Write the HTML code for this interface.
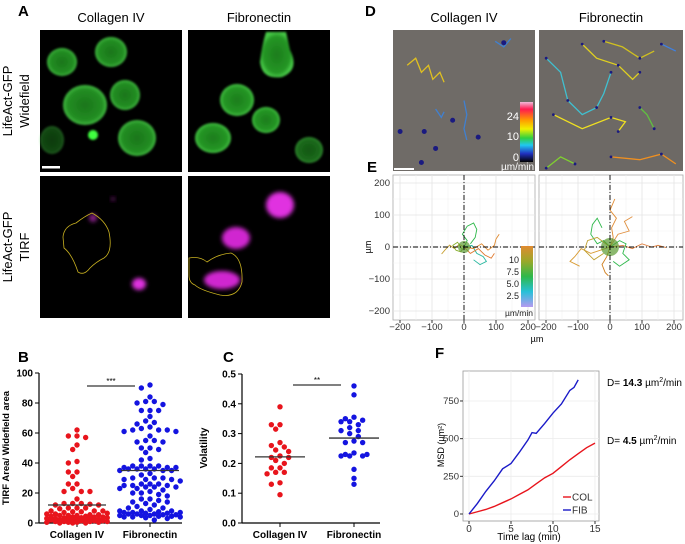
<!DOCTYPE html>
<html><head><meta charset="utf-8"><style>
html,body{margin:0;padding:0;background:#fff;}
svg{display:block;font-family:"Liberation Sans",Arial,sans-serif;}
</style></head><body>
<svg id="fig" width="685" height="544" viewBox="0 0 685 544" xmlns="http://www.w3.org/2000/svg">
<defs>
<filter id="blur1" x="-50%" y="-50%" width="200%" height="200%"><feGaussianBlur stdDeviation="2"/></filter>
<filter id="blur2" x="-50%" y="-50%" width="200%" height="200%"><feGaussianBlur stdDeviation="1"/></filter>
<linearGradient id="gradD" x1="0" y1="0" x2="0" y2="1">
<stop offset="0" stop-color="#f0b8d8"/><stop offset="0.12" stop-color="#ff1a50"/><stop offset="0.3" stop-color="#ff9a00"/><stop offset="0.45" stop-color="#f0f000"/><stop offset="0.6" stop-color="#30d040"/><stop offset="0.72" stop-color="#20c8f0"/><stop offset="0.86" stop-color="#2030c0"/><stop offset="1" stop-color="#000"/></linearGradient>
<linearGradient id="gradE" x1="0" y1="0" x2="0" y2="1">
<stop offset="0" stop-color="#e08a30"/><stop offset="0.25" stop-color="#9aa82a"/><stop offset="0.5" stop-color="#2eb84a"/><stop offset="0.75" stop-color="#28c0d8"/><stop offset="1" stop-color="#b59af0"/></linearGradient>
<radialGradient id="cellG"><stop offset="0" stop-color="#1f8a1f"/><stop offset="0.8" stop-color="#2aa82a"/><stop offset="1" stop-color="#50e050"/></radialGradient>
</defs>

<!-- Panel A -->
<text x="18" y="16" font-size="15" font-weight="bold">A</text>
<text x="111" y="22" font-size="13" text-anchor="middle">Collagen IV</text>
<text x="259" y="22" font-size="13" text-anchor="middle">Fibronectin</text>
<g font-size="13" text-anchor="middle">
<text transform="translate(12,101) rotate(-90)">LifeAct-GFP</text>
<text transform="translate(29,101) rotate(-90)">Widefield</text></g>
<g font-size="13" text-anchor="middle">
<text transform="translate(12,247) rotate(-90)">LifeAct-GFP</text>
<text transform="translate(29,247) rotate(-90)">TIRF</text></g>

<g>
<rect x="40" y="30" width="142" height="142" fill="#000"/>
<g filter="url(#blur2)" fill="url(#cellG)" opacity="0.85">
<ellipse cx="111" cy="52" rx="16" ry="15"/><ellipse cx="62" cy="62" rx="15" ry="14"/>
<ellipse cx="85" cy="105" rx="22" ry="20"/><ellipse cx="125" cy="95" rx="15" ry="15"/>
<ellipse cx="137" cy="138" rx="19" ry="18"/><ellipse cx="52" cy="140" rx="12" ry="14" opacity="0.5"/></g>
<circle cx="93" cy="135" r="5" fill="#40ff40" filter="url(#blur2)"/>
<rect x="42" y="166" width="18" height="2.5" fill="#fff"/></g>
<g>
<rect x="188" y="30" width="142" height="142" fill="#000"/>
<g filter="url(#blur2)" fill="url(#cellG)" opacity="0.9">
<path d="M266 32 L286 32 L290 50 Q300 70 282 77 Q262 80 260 62 Q262 45 266 32Z"/>
<ellipse cx="237" cy="100" rx="17" ry="16"/><ellipse cx="266" cy="120" rx="14" ry="13"/>
<ellipse cx="213" cy="138" rx="18" ry="15"/><ellipse cx="309" cy="150" rx="14" ry="13" opacity="0.7"/></g></g>

<g>
<rect x="40" y="176" width="142" height="142" fill="#000"/>
<ellipse cx="139" cy="284" rx="7" ry="6" fill="#e030e0" filter="url(#blur1)"/>
<ellipse cx="93" cy="218" rx="4" ry="4" fill="#8a208a" filter="url(#blur1)"/>
<ellipse cx="113" cy="199" rx="2" ry="2" fill="#6a186a" filter="url(#blur1)"/>
<path d="M63 237 Q64 226 76 223 Q85 216 92 213 Q105 220 109 232 Q113 252 104 258 Q96 262 90 268 Q84 276 78 272 Q72 254 64 248Z" fill="none" stroke="#c8b020" stroke-width="0.8"/></g>
<g>
<rect x="188" y="176" width="142" height="142" fill="#000"/>
<ellipse cx="280" cy="205" rx="14" ry="13" fill="#e030e0" filter="url(#blur1)"/>
<ellipse cx="236" cy="238" rx="14" ry="11" fill="#d028d0" filter="url(#blur1)"/>
<ellipse cx="222" cy="280" rx="18" ry="9" fill="#d028d0" filter="url(#blur1)"/>
<path d="M189 258 Q200 256 207 262 Q218 254 231 253 Q243 258 242 282 Q238 298 220 295 Q200 290 195 285 Q189 283 189 275Z" fill="none" stroke="#c8b020" stroke-width="0.8"/></g>

<!-- Panel B -->
<text x="18" y="362" font-size="15" font-weight="bold">B</text>
<text transform="translate(9,448) rotate(-90)" font-size="9.5" font-weight="bold" text-anchor="middle">TIRF Area/ Widefield area</text>
<g id="chartB"></g>
<!-- Panel C -->
<text x="223" y="362" font-size="15" font-weight="bold">C</text>
<text transform="translate(207,448) rotate(-90)" font-size="10" font-weight="bold" text-anchor="middle">Volatility</text>
<g id="chartC"></g>

<!-- Panel D -->
<text x="365" y="16" font-size="15" font-weight="bold">D</text>
<text x="464" y="22" font-size="13" text-anchor="middle">Collagen IV</text>
<text x="611" y="22" font-size="13" text-anchor="middle">Fibronectin</text>
<rect x="393" y="30" width="142" height="141" fill="#6f6b67"/>
<rect x="539" y="30" width="144" height="141" fill="#6d6965"/>
<g id="chartD"></g>
<g>
<rect x="520" y="102" width="13" height="60" fill="url(#gradD)"/>
<text x="519" y="120" font-size="11" fill="#fff" text-anchor="end">24</text>
<text x="519" y="140" font-size="11" fill="#fff" text-anchor="end">10</text>
<text x="519" y="161" font-size="11" fill="#fff" text-anchor="end">0</text>
<text x="534" y="170" font-size="10" fill="#fff" text-anchor="end">µm/min</text></g>
<rect x="394" y="168" width="20" height="2" fill="#fff"/>

<!-- Panel E -->
<text x="367" y="172" font-size="15" font-weight="bold">E</text>
<text transform="translate(371,247) rotate(-90)" font-size="9" text-anchor="middle">µm</text>
<text x="537" y="342" font-size="9" text-anchor="middle">µm</text>
<g id="chartE"></g>

<!-- Panel F -->
<text x="435" y="358" font-size="15" font-weight="bold">F</text>
<text transform="translate(444,445) rotate(-90)" font-size="9" text-anchor="middle">MSD (µm²)</text>
<text x="529" y="540" font-size="10" text-anchor="middle">Time lag (min)</text>
<g id="chartF"></g>
<text x="607" y="386" font-size="10">D= <tspan font-weight="bold">14.3</tspan> µm<tspan font-size="7" dy="-4">2</tspan><tspan dy="4">/min</tspan></text>
<text x="607" y="444" font-size="10">D= <tspan font-weight="bold">4.5</tspan>  µm<tspan font-size="7" dy="-4">2</tspan><tspan dy="4">/min</tspan></text>
</svg>
<script>
// ---------- DATA ----------
const bCategories = ["Collagen IV","Fibronectin"];
const bCollagen = [62,58,58,57,52,49,41,40,34,34,31,26,26,23,21,21,21,16,13,13,13,12.5,12,12,10,10,10,9.5,8,8,8,7.5,7.5,7,6.5,6,6,5.5,5.5,5,5,5,4.5,4.5,4,4,4,3.5,3.5,3.5,3,3,3,2.5,2.5,2.5,2,2,2,2,1.5,1.5,1.5,1,1,1,1,0.5,0.5,0.5,0.5,0,0,0];
const bFibronectin = [92,90,84,81,81,80,79,75,75,75,71,68,67,66,64,63,62,62,62,61,61,58,55,55,54,54,50,50,49,47,43,42,38,38,38,38,37,37,37,36,36,36,36,35,35,35,33,32,30,30,30,29,29,29,28,26,26,26,25,25,25,24,24,24,23,23,22,21,20,20,19,18,16,16,15,14,14,13,12,11,10,10,9,8,8,8,7.5,7,7,7,6.5,6.5,6,6,6,5.5,5.5,5,5,5,4.5,4.5,4,4,4,3.5,3,2];
const bMedians = [12,35];
const bTicks = [0,20,40,60,80,100];
const cCategories = ["Collagen IV","Fibronectin"];
const cCollagen = [0.39,0.33,0.33,0.315,0.27,0.26,0.255,0.245,0.24,0.225,0.22,0.22,0.21,0.2,0.185,0.185,0.17,0.17,0.165,0.135,0.13,0.095];
const cFibronectin = [0.46,0.43,0.355,0.35,0.345,0.34,0.34,0.33,0.32,0.31,0.31,0.30,0.29,0.275,0.27,0.27,0.235,0.23,0.225,0.225,0.225,0.23,0.18,0.15,0.13];
const cMedians = [0.222,0.285];
const cTicks = [0,0.1,0.2,0.3,0.4,0.5];
const fTime = [0,1,2,3,4,5,6,7,7.5,8,9,10,11,12,12.5,13];
const fFib = [0,70,150,220,300,335,410,490,540,535,600,670,730,820,840,890];
const fTimeCol = [0,1,2,3,4,5,6,7,8,9,10,11,12,13,14,15];
const fCol = [0,15,30,50,75,100,130,160,200,240,270,315,360,400,440,470];
const fXTicks = [0,5,10,15];
const fYTicks = [0,250,500,750];
const eTicks = [-200,-100,0,100,200];
const eLeftTracks = [
 [[0,0],[-15,8],[-30,-5],[-45,6],[-60,-10],[-70,-22]],
 [[0,0],[10,20],[-5,40],[10,65],[30,75],[40,55],[35,30],[20,10]],
 [[0,0],[25,5],[40,-20],[60,-30],[70,-45],[50,-55],[30,-40]],
 [[0,0],[30,-5],[55,10],[75,-10],[95,5],[100,25],[110,40]],
 [[0,0],[-10,-15],[-25,-10],[-35,5],[-20,15],[-5,-10]],
 [[0,0],[20,-20],[45,-5],[65,-25],[85,-35],[95,-20]]];
const eRightTracks = [
 [[0,0],[-20,20],[-40,10],[-60,40],[-55,70],[-40,90],[-25,60]],
 [[0,0],[-30,-10],[-60,-20],[-90,-5],[-110,-30],[-125,-45],[-95,-60]],
 [[0,0],[10,30],[5,60],[20,90],[0,115],[15,150]],
 [[0,0],[40,5],[70,-5],[100,10],[130,0],[150,5],[175,-2]],
 [[0,0],[-10,-30],[-25,-55],[-15,-80],[-5,-90]],
 [[0,0],[30,20],[50,10],[40,-20],[60,-40],[30,-60],[10,-45]],
 [[0,0],[-40,30],[-70,20],[-80,-10],[-50,-40],[-20,-20]],
 [[0,0],[25,40],[60,50],[45,80],[70,95]]];
const eRightColors = ["#2eb84a","#d89a30","#e08a30","#e08040","#d08020","#2eb84a","#c0a030","#e09040"];
const eLeftColors = ["#c8a030","#2eb84a","#28b8a0","#e08a30","#8ab030","#e07a30"];
const dLeftTracks = [[[0.1,0.25],[0.16,0.2],[0.2,0.3],[0.25,0.25],[0.28,0.35],[0.33,0.3],[0.36,0.37]],[[0.72,0.08],[0.78,0.12],[0.83,0.06]],[[0.5,0.5],[0.52,0.6],[0.5,0.7],[0.52,0.78]],[[0.3,0.56],[0.34,0.62],[0.36,0.58]]];
const dRightTracks = [[[0.05,0.2],[0.15,0.3],[0.2,0.5],[0.3,0.6],[0.4,0.55],[0.45,0.45],[0.5,0.3]],[[0.3,0.1],[0.4,0.2],[0.55,0.25],[0.65,0.35],[0.7,0.3]],[[0.45,0.08],[0.58,0.12],[0.7,0.2],[0.8,0.15]],[[0.1,0.6],[0.3,0.7],[0.5,0.62],[0.6,0.65],[0.55,0.72]],[[0.7,0.55],[0.75,0.6],[0.8,0.7]],[[0.5,0.9],[0.7,0.92],[0.85,0.88],[0.95,0.95]],[[0.05,0.98],[0.15,0.9],[0.25,0.95]],[[0.85,0.1],[0.95,0.15]]];
const dRightColors = ["#40c0d0","#e0d020","#d0c020","#f0e020","#60c040","#f09020","#80d030","#4080e0"];
const dLeftBlobs = [[0.05,0.72],[0.22,0.72],[0.6,0.76],[0.3,0.84],[0.2,0.94],[0.42,0.64],[0.78,0.09]];

const NS="http://www.w3.org/2000/svg";
function mk(tag,attrs,parent){const e=document.createElementNS(NS,tag);for(const k in attrs)e.setAttribute(k,attrs[k]);parent.appendChild(e);return e;}

function swarm(vals,cx,ys,r,maxHalf){
  const placed=[];
  const step=r*1.6;
  vals.forEach(v=>{const y=ys(v);let best=null,bestD=-1;
    for(let k=0;;k++){const off=(k%2===0?1:-1)*Math.ceil(k/2)*step; if(Math.abs(off)>maxHalf)break;
      const x=cx+off;let md=Infinity;placed.forEach(p=>{md=Math.min(md,Math.hypot(p[0]-x,p[1]-y));});
      if(md>=r*2){best=x;bestD=md;break;}
      if(md>bestD){bestD=md;best=x;}}
    placed.push([best,y]);});
  return placed;
}

// ---------- Panel B ----------
(function(){
  const g=document.getElementById('chartB');
  const yB=v=>523-v*1.5; const xB=[77,150];
  let a=mk('line',{x1:39,y1:373,x2:39,y2:523,stroke:'#000','stroke-width':1.2},g);
  
  
  a=mk('line',{x1:39,y1:523,x2:182,y2:523,stroke:'#000','stroke-width':1.2},g);
  
  
  bTicks.forEach(t=>{
    const l=mk('line',{x1:35,y1:yB(t),x2:39,y2:yB(t),stroke:'#000'},g);
    
    
    const tx=mk('text',{x:33,y:yB(t)+3.5,'font-size':10,'font-weight':'bold','text-anchor':'end'},g);tx.textContent=t;
    
    
  });
  bCategories.forEach((c,i)=>{
    const l=mk('line',{x1:xB[i],y1:523,x2:xB[i],y2:527,stroke:'#000'},g);
    
    
    const tx=mk('text',{x:xB[i],y:538,'font-size':10,'font-weight':'bold','text-anchor':'middle'},g);tx.textContent=c;
    
    
  });
  [[bCollagen,'#e8141c'],[bFibronectin,'#1414e0']].forEach((s,i)=>{
    swarm(s[0],xB[i],yB,2.7,31).forEach(p=>{
      const c=mk('circle',{cx:p[0],cy:p[1],r:2.7,fill:s[1]},g);
      
      
    });
    const m=mk('line',{x1:xB[i]-29,y1:yB(bMedians[i]),x2:xB[i]+29,y2:yB(bMedians[i]),stroke:'#333','stroke-width':1.3},g);
    
    
  });
  let s=mk('line',{x1:87,y1:386,x2:135,y2:386,stroke:'#000'},g);
  
  
  s=mk('text',{x:111,y:384,'font-size':8,'text-anchor':'middle'},g);s.textContent='***';
  
  
})();

// ---------- Panel C ----------
(function(){
  const g=document.getElementById('chartC');
  const yC=v=>523-v*298; const xC=[280,354];
  let a=mk('line',{x1:242,y1:374,x2:242,y2:523,stroke:'#000','stroke-width':1.2},g);
  
  
  a=mk('line',{x1:242,y1:523,x2:380,y2:523,stroke:'#000','stroke-width':1.2},g);
  
  
  cTicks.forEach(t=>{
    const l=mk('line',{x1:238,y1:yC(t),x2:242,y2:yC(t),stroke:'#000'},g);
    
    
    const tx=mk('text',{x:236,y:yC(t)+3.5,'font-size':10,'font-weight':'bold','text-anchor':'end'},g);tx.textContent=t.toFixed(1);
    
    
  });
  cCategories.forEach((c,i)=>{
    const l=mk('line',{x1:xC[i],y1:523,x2:xC[i],y2:527,stroke:'#000'},g);
    
    
    const tx=mk('text',{x:xC[i],y:538,'font-size':10,'font-weight':'bold','text-anchor':'middle'},g);tx.textContent=c;
    
    
  });
  [[cCollagen,'#e8141c'],[cFibronectin,'#1414e0']].forEach((s,i)=>{
    swarm(s[0],xC[i],yC,2.7,15).forEach(p=>{
      const c=mk('circle',{cx:p[0],cy:p[1],r:2.7,fill:s[1]},g);
      
      
    });
    const m=mk('line',{x1:xC[i]-25,y1:yC(cMedians[i]),x2:xC[i]+25,y2:yC(cMedians[i]),stroke:'#333','stroke-width':1.3},g);
    
    
  });
  let s=mk('line',{x1:293,y1:385,x2:341,y2:385,stroke:'#000'},g);
  
  
  s=mk('text',{x:317,y:383,'font-size':8,'text-anchor':'middle'},g);s.textContent='**';
  
  
})();

// ---------- Panel D ----------
(function(){
  const g=document.getElementById('chartD');
  const L={x:393,y:30,w:142,h:141},R={x:539,y:30,w:144,h:141};
  const pts=(tr,b)=>tr.map(p=>(b.x+p[0]*b.w).toFixed(1)+','+(b.y+p[1]*b.h).toFixed(1)).join(' ');
  dLeftTracks.forEach((tr,i)=>{
    const p=mk('polyline',{points:pts(tr,L),fill:'none',stroke:i===0?'#e0c020':'#4080d0','stroke-width':1.3},g);
    
    
  });
  dLeftBlobs.forEach(b=>{
    const c=mk('circle',{cx:L.x+b[0]*L.w,cy:L.y+b[1]*L.h,r:2.5,fill:'#1a1a80'},g);
    
    
  });
  dRightTracks.forEach((tr,i)=>{
    const p=mk('polyline',{points:pts(tr,R),fill:'none',stroke:dRightColors[i],'stroke-width':1.3},g);
    
    
    tr.forEach((q,j)=>{ if(j%2===0){
      const c=mk('circle',{cx:R.x+q[0]*R.w,cy:R.y+q[1]*R.h,r:1.4,fill:'#1a1a80'},g);
      
      
    }});
  });
})();

// ---------- Panel E ----------
(function(){
  const g=document.getElementById('chartE');
  const panels=[{x0:393,x1:535,tracks:eLeftTracks,colors:eLeftColors,n:'left'},{x0:539,x1:683,tracks:eRightTracks,colors:eRightColors,n:'right'}];
  const y0=175,y1=320;
  const yE=v=>247-v*0.32;
  panels.forEach((P,pi)=>{
    const c0=pi===0?464:610;
    const xE=v=>c0+v*0.32;
    let r=mk('rect',{x:P.x0,y:y0,width:P.x1-P.x0,height:y1-y0,fill:'#fff',stroke:'#aaa','stroke-width':0.8},g);
    
    
    [-150,-50,50,150].forEach(t=>{
      let l=mk('line',{x1:xE(t),y1:y0,x2:xE(t),y2:y1,stroke:'#f2f2f2','stroke-width':0.6},g);
      
      
      l=mk('line',{x1:P.x0,y1:yE(t),x2:P.x1,y2:yE(t),stroke:'#f2f2f2','stroke-width':0.6},g);
      
      
    });
    eTicks.forEach(t=>{
      let l=mk('line',{x1:xE(t),y1:y0,x2:xE(t),y2:y1,stroke:'#e4e4e4','stroke-width':0.8},g);
      
      
      l=mk('line',{x1:P.x0,y1:yE(t),x2:P.x1,y2:yE(t),stroke:'#e4e4e4','stroke-width':0.8},g);
      
      
      l=mk('line',{x1:xE(t),y1:y1,x2:xE(t),y2:y1+3,stroke:'#333'},g);
      
      
      const tx=mk('text',{x:xE(t),y:330,'font-size':9.5,fill:'#333','text-anchor':'middle'},g);
      tx.textContent=t<0?'\u2212'+(-t):t;
      
      
    });
    P.tracks.forEach((tr,i)=>{
      const p=mk('polyline',{points:tr.map(q=>xE(q[0]).toFixed(1)+','+yE(q[1]).toFixed(1)).join(' '),fill:'none',stroke:P.colors[i],'stroke-width':0.9},g);
      
      
    });
    const blob=mk('circle',{cx:xE(0),cy:yE(0),r:pi===0?6:9,fill:'#5a9a30',opacity:0.7},g);
    
    
    let d=mk('line',{x1:P.x0,y1:yE(0),x2:P.x1,y2:yE(0),stroke:'#000','stroke-width':0.9,'stroke-dasharray':'5,2,1,2'},g);
    
    
    d=mk('line',{x1:xE(0),y1:y0,x2:xE(0),y2:y1,stroke:'#000','stroke-width':0.9,'stroke-dasharray':'5,2,1,2'},g);
    
    
  });
  eTicks.forEach(t=>{
    const tx=mk('text',{x:390,y:yE(t)+3,'font-size':9.5,fill:'#333','text-anchor':'end'},g);
    tx.textContent=t<0?'\u2212'+(-t):t;
    
    
  });
  const cb=mk('rect',{x:521,y:246,width:12,height:61,fill:'url(#gradE)'},g);
  
  
  [['10',263],['7.5',275],['5.0',287],['2.5',299]].forEach(l=>{
    const tx=mk('text',{x:519,y:l[1],'font-size':9,fill:'#222','text-anchor':'end'},g);tx.textContent=l[0];
    
    
  });
  const u=mk('text',{x:533,y:316,'font-size':8.5,fill:'#222','text-anchor':'end'},g);u.textContent='µm/min';
  
  
})();

// ---------- Panel F ----------
(function(){
  const g=document.getElementById('chartF');
  const xF=t=>469+t*8.4, yF=v=>514-v*0.1507;
  let r=mk('rect',{x:463,y:371,width:136,height:150,fill:'#fff',stroke:'#999','stroke-width':0.8},g);
  
  
  fXTicks.forEach(t=>{
    let l=mk('line',{x1:xF(t),y1:371,x2:xF(t),y2:521,stroke:'#ececec','stroke-width':0.8},g);
    
    
    l=mk('line',{x1:xF(t),y1:521,x2:xF(t),y2:524,stroke:'#333'},g);
    
    
    const tx=mk('text',{x:xF(t),y:532,'font-size':10,fill:'#333','text-anchor':'middle'},g);tx.textContent=t;
    
    
  });
  fYTicks.forEach(t=>{
    let l=mk('line',{x1:463,y1:yF(t),x2:599,y2:yF(t),stroke:'#ececec','stroke-width':0.8},g);
    
    
    l=mk('line',{x1:460,y1:yF(t),x2:463,y2:yF(t),stroke:'#333'},g);
    
    
    const tx=mk('text',{x:459,y:yF(t)+3,'font-size':9.5,fill:'#333','text-anchor':'end'},g);tx.textContent=t;
    
    
  });
  let p=mk('polyline',{points:fTimeCol.map((t,i)=>xF(t)+','+yF(fCol[i])).join(' '),fill:'none',stroke:'#e8141c','stroke-width':1.4},g);
  
  
  p=mk('polyline',{points:fTime.map((t,i)=>xF(t)+','+yF(fFib[i])).join(' '),fill:'none',stroke:'#1a1ac8','stroke-width':1.4},g);
  
  
  [['COL','#e8141c',497],['FIB','#1a1ac8',510]].forEach(e=>{
    const l=mk('line',{x1:563,y1:e[2],x2:571,y2:e[2],stroke:e[1],'stroke-width':1.4},g);
    
    
    const tx=mk('text',{x:572,y:e[2]+3.5,'font-size':10,fill:'#333'},g);tx.textContent=e[0];
    
    
  });
})();
</script>
</body></html>
